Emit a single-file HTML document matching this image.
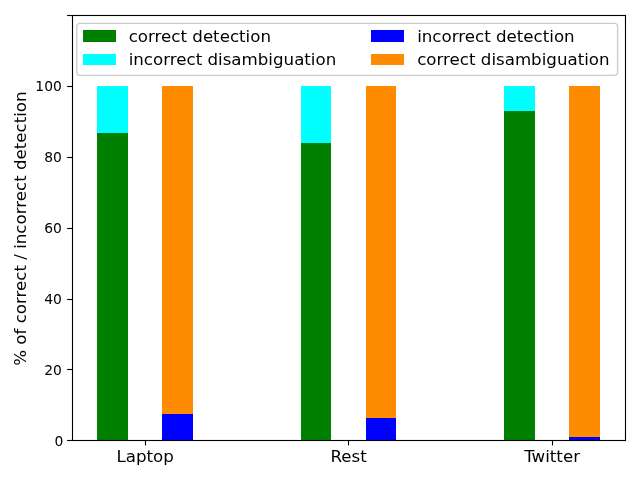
<!DOCTYPE html>
<html>
<head>
<meta charset="utf-8">
<style>
html,body{margin:0;padding:0;background:#fff;width:640px;height:480px;overflow:hidden;}
svg{display:block;}
text{font-family:"DejaVu Sans","Liberation Sans",sans-serif;fill:#000;}
.yt{font-size:13.889px;text-anchor:end;}
.xt{font-size:16.667px;text-anchor:middle;}
.lg{font-size:16.667px;}
</style>
</head>
<body>
<svg width="640" height="480" viewBox="0 0 640 480">
<rect x="0" y="0" width="640" height="480" fill="#fff"/>
<!-- bars -->
<g shape-rendering="crispEdges">
<rect x="97" y="133" width="31" height="307" fill="#008000"/>
<rect x="97" y="86" width="31" height="47" fill="#00ffff"/>
<rect x="162" y="414" width="31" height="26" fill="#0000ff"/>
<rect x="162" y="86" width="31" height="328" fill="#ff8c00"/>

<rect x="301" y="143" width="30" height="297" fill="#008000"/>
<rect x="301" y="86" width="30" height="57" fill="#00ffff"/>
<rect x="366" y="418" width="30" height="22" fill="#0000ff"/>
<rect x="366" y="86" width="30" height="332" fill="#ff8c00"/>

<rect x="504" y="111" width="31" height="329" fill="#008000"/>
<rect x="504" y="86" width="31" height="25" fill="#00ffff"/>
<rect x="569" y="437" width="31" height="3" fill="#0000ff"/>
<rect x="569" y="86" width="31" height="351" fill="#ff8c00"/>
</g>
<!-- ticks -->
<g stroke="#000" stroke-width="1.11">
<line x1="67.1" y1="440.5" x2="72.5" y2="440.5"/>
<line x1="67.1" y1="369.5" x2="72.5" y2="369.5"/>
<line x1="67.1" y1="299.5" x2="72.5" y2="299.5"/>
<line x1="67.1" y1="228.5" x2="72.5" y2="228.5"/>
<line x1="67.1" y1="157.5" x2="72.5" y2="157.5"/>
<line x1="67.1" y1="86.5" x2="72.5" y2="86.5"/>
<line x1="67.1" y1="15.5" x2="72.5" y2="15.5"/>
<line x1="145.5" y1="440.5" x2="145.5" y2="445.4"/>
<line x1="348.5" y1="440.5" x2="348.5" y2="445.4"/>
<line x1="552.5" y1="440.5" x2="552.5" y2="445.4"/>
</g>
<!-- spines -->
<rect x="72.5" y="15.5" width="553" height="425" fill="none" stroke="#000" stroke-width="1.11"/>
<!-- y tick labels -->
<text class="yt" x="63.3" y="445.8">0</text>
<text class="yt" x="61.8" y="374.8">20</text>
<text class="yt" x="61.8" y="303.8">40</text>
<text class="yt" x="61.8" y="232.8">60</text>
<text class="yt" x="61.8" y="161.8">80</text>
<text class="yt" x="61.8" y="90.9">100</text>
<!-- x tick labels -->
<text class="xt" x="145.2" y="461.9">Laptop</text>
<text class="xt" x="348.6" y="461.9">Rest</text>
<text class="xt" x="552.1" y="461.9">Twitter</text>
<!-- y label -->
<text class="xt" transform="translate(25.7 228.6) rotate(-90)" x="0" y="0">% of correct / incorrect detection</text>
<!-- legend -->
<rect x="76.75" y="23.4" width="540.85" height="52.0" rx="3.3" ry="3.3" fill="#fff" fill-opacity="0.8" stroke="#cccccc" stroke-width="1.39"/>
<g shape-rendering="crispEdges">
<rect x="83" y="30" width="33" height="12" fill="#008000"/>
<rect x="83" y="54" width="33" height="11" fill="#00ffff"/>
<rect x="371" y="30" width="33" height="12" fill="#0000ff"/>
<rect x="371" y="54" width="33" height="11" fill="#ff8c00"/>
</g>
<text class="lg" x="128.7" y="41.9">correct detection</text>
<text class="lg" x="128.7" y="64.8">incorrect disambiguation</text>
<text class="lg" x="417.2" y="41.9">incorrect detection</text>
<text class="lg" x="417.2" y="64.8">correct disambiguation</text>
</svg>
</body>
</html>
